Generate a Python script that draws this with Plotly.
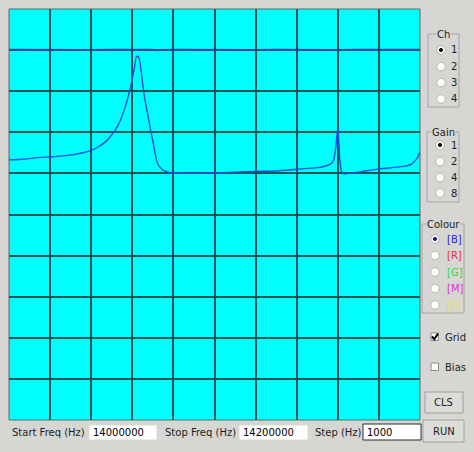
import plotly.graph_objects as go

# ---------------- data ----------------
START_HZ = 14000000
STOP_HZ = 14200000
STEP_HZ = 1000

# response sweep (offset from start, kHz) and level (% of full scale)
resp_khz = [0, 5, 10, 15, 20, 25, 30, 35, 40, 43, 46, 48, 50, 52, 53, 54, 55, 56, 57, 58,
            59, 60, 61, 62, 63, 64, 65, 66, 67, 68, 69, 70, 71, 72, 73, 74, 75, 76, 78, 80,
            90, 100, 110, 120, 130, 140, 150, 154, 156, 157, 158, 159, 160, 161, 162, 163,
            165, 170, 180, 190, 194, 196, 198, 199, 200]
resp_level = [63.3, 63.4, 63.6, 63.9, 64.0, 64.2, 64.5, 64.9, 65.6, 66.3, 67.3, 68.2, 69.4,
              70.8, 71.7, 72.7, 73.9, 75.3, 76.9, 78.7, 80.7, 83.0, 85.6, 88.4, 88.4, 86.1,
              82.0, 78.4, 75.7, 73.0, 70.3, 67.9, 65.2, 62.8, 61.8, 61.2, 60.8, 60.6, 60.2,
              60.1, 60.0, 60.1, 60.3, 60.5, 60.6, 61.0, 61.4, 61.8, 62.2, 62.5, 63.3, 66.2,
              71.3, 63.3, 60.1, 59.85, 60.0, 60.3, 61.1, 61.6, 61.9, 62.3, 63.3, 64.0, 65.2]

# reference (flat) channel
ref_khz = [0, 10, 20, 30, 40, 50, 60, 70, 72, 74, 80, 90, 100, 110, 120, 130, 140, 150,
           160, 170, 180, 190, 200]
ref_level = [90.15, 90.1, 90.15, 90.15, 90.1, 90.15, 90.1, 90.15, 89.9, 90.1, 90.15, 90.1,
             90.15, 90.15, 90.1, 90.15, 90.1, 90.15, 90.1, 90.15, 90.1, 90.15, 90.15]

ch_labels = ["1", "2", "3", "4"]
gain_labels = ["1", "2", "4", "8"]
colour_labels = ["[B]", "[R]", "[G]", "[M]", "[Y]"]
colour_text = ["#2a2ae0", "#e03a3a", "#3ad43a", "#d23ad2", "#e4e44a"]

resp_hz = [START_HZ + k * STEP_HZ for k in resp_khz]
ref_hz = [START_HZ + k * STEP_HZ for k in ref_khz]

# ---------------- figure ----------------
W, H = 474, 452
L, R, T, B = 9, 420, 9, 420
BG = "#d6d6d3"
FONT = "DejaVu Sans"


def X(px):
    return (px - L) / (R - L)


def Y(py):
    return (B - py) / (B - T)


fig = go.Figure()
fig.add_trace(go.Scatter(x=ref_hz, y=ref_level, mode="lines",
                         line=dict(color="#2440b4", width=1.3), hoverinfo="skip"))
fig.add_trace(go.Scatter(x=resp_hz, y=resp_level, mode="lines", line_shape="spline",
                         line=dict(color="#1a50dc", width=1.4, smoothing=0.6), hoverinfo="skip"))

shapes = []
ann = []

# plot frame
shapes.append(dict(type="rect", xref="paper", yref="paper", x0=0, x1=1, y0=0, y1=1,
                   line=dict(color="#5a6a6a", width=1)))


def rect(x0, y0, x1, y1, fill, line, lw=1):
    shapes.append(dict(type="rect", xref="paper", yref="paper", x0=X(x0), x1=X(x1),
                       y0=Y(y1), y1=Y(y0), fillcolor=fill, line=dict(color=line, width=lw),
                       layer="above"))


def circle(cx, cy, r, fill, line, lw=1):
    shapes.append(dict(type="circle", xref="paper", yref="paper", x0=X(cx - r), x1=X(cx + r),
                       y0=Y(cy + r), y1=Y(cy - r), fillcolor=fill,
                       line=dict(color=line, width=lw), layer="above"))


def text(px, py, s, color="#1e1e1e", anchor="left", size=10, bg=None):
    d = dict(xref="paper", yref="paper", x=X(px), y=Y(py), text=s, showarrow=False,
             xanchor=anchor, yanchor="middle", font=dict(family=FONT, size=size, color=color))
    if bg:
        d["bgcolor"] = bg
        d["borderpad"] = 0
    ann.append(d)


def group(x0, y0, x1, y1, title, tx):
    rect(x0, y0, x1, y1, "rgba(0,0,0,0)", "#a4a4a0", 1)
    text(tx, y0, title, anchor="center", bg=BG)


# Ch group
group(428, 34, 459, 107, "Ch", 443.5)
for i, (lab, cy) in enumerate(zip(ch_labels, [50, 66.5, 82.5, 99])):
    circle(441, cy, 4.3, "#ffffff", "#b4b4b0")
    if i == 0:
        circle(441, cy, 1.6, "#000000", "#000000")
    text(449, cy, lab)

# Gain group
group(427, 132, 459, 202, "Gain", 443.5)
for i, (lab, cy) in enumerate(zip(gain_labels, [145, 161.5, 177.5, 193])):
    circle(440, cy, 4.3, "#ffffff", "#b4b4b0")
    if i == 0:
        circle(440, cy, 1.6, "#000000", "#000000")
    text(449, cy, lab)

# Colour group
group(422, 224, 464, 313, "Colour", 443.5)
for i, (lab, col, cy) in enumerate(zip(colour_labels, colour_text, [239, 255.5, 272, 288.5, 305])):
    circle(435, cy, 4.3, "#ffffff", "#b4b4b0")
    if i == 0:
        circle(435, cy, 1.6, "#1a1aa0", "#1a1aa0")
    text(445, cy, lab, color=col)

# checkboxes
rect(431, 333, 438.5, 340.5, "#ffffff", "#8a8a86")
shapes.append(dict(type="path", xref="paper", yref="paper",
                   path=f"M {X(432)},{Y(336.5)} L {X(434.3)},{Y(339.3)} L {X(438)},{Y(333.5)}",
                   line=dict(color="#000000", width=2), layer="above"))
text(443, 337, "Grid")
rect(431, 363, 438.5, 370.5, "#ffffff", "#8a8a86")
text(443, 367, "Bias")

# buttons
rect(425, 392, 463, 413, "#dcdcd9", "#a0a09c")
text(444, 402.5, "CLS", anchor="center")
rect(423, 420, 464, 442, "#dcdcd9", "#a0a09c")
text(443.5, 431, "RUN", anchor="center")

# bottom inputs
text(10, 432.5, "Start Freq (Hz)")
rect(89, 425, 157, 440, "#ffffff", "#d8d8d4")
text(90.5, 432.5, str(START_HZ), color="#000000")
text(163, 432.5, "Stop Freq (Hz)")
rect(239, 425, 308, 440, "#ffffff", "#d8d8d4")
text(240.5, 432.5, str(STOP_HZ), color="#000000")
text(313, 432.5, "Step (Hz)")
rect(363, 424, 421, 440, "#ffffff", "#2a2a2a")
text(364.5, 432.5, str(STEP_HZ), color="#000000")

fig.update_layout(
    width=W, height=H,
    margin=dict(l=L, r=W - R, t=T, b=H - B, pad=0),
    paper_bgcolor=BG, plot_bgcolor="#00ffff",
    showlegend=False,
    shapes=shapes, annotations=ann,
    xaxis=dict(range=[START_HZ, STOP_HZ], dtick=20000, tick0=START_HZ, showticklabels=False,
               showgrid=True, gridcolor="#0e5656", gridwidth=1.5, zeroline=False, ticks="",
               fixedrange=True),
    yaxis=dict(range=[0, 100], dtick=10, showticklabels=False, showgrid=True,
               gridcolor="#0e5656", gridwidth=1.5, zeroline=False, ticks="", fixedrange=True),
)

fig.write_html("out.html", config={"displayModeBar": False},
               post_script="document.body.style.margin='0px';document.body.style.overflow='hidden';")
